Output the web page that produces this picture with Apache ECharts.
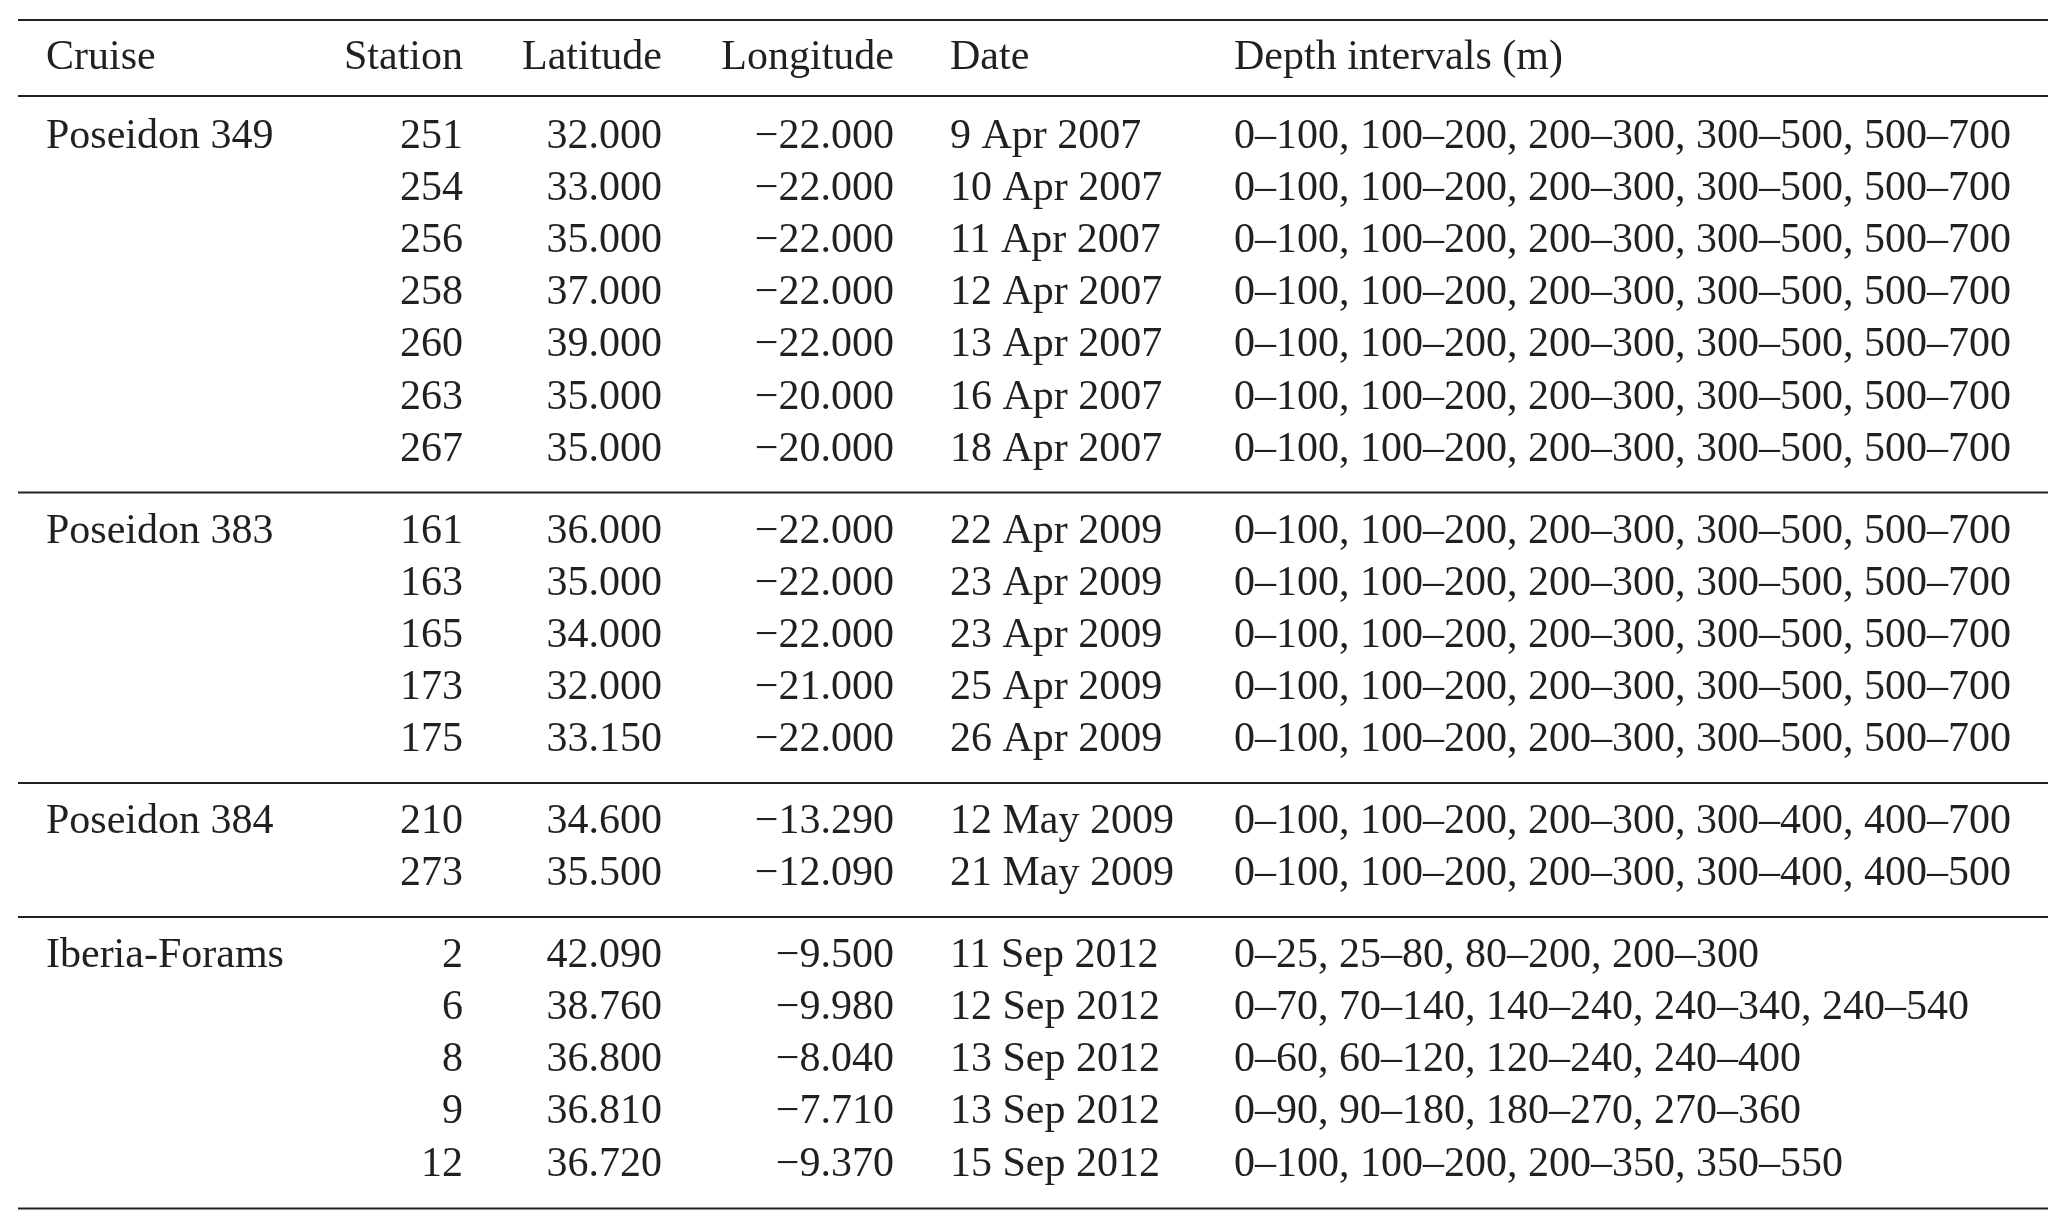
<!DOCTYPE html>
<html>
<head>
<meta charset="utf-8">
<script src="https://cdn.jsdelivr.net/npm/echarts@6/dist/echarts.min.js"></script>
<style>
  html, body { margin: 0; padding: 0; background: #fff; }
  #table_chart { width: 2067px; height: 1222px; }
</style>
</head>
<body>
<div id="table_chart"></div>
<script>
// Table data
var headers = ['Cruise', 'Station', 'Latitude', 'Longitude', 'Date', 'Depth intervals (m)'];
var cruises = ['Poseidon 349', 'Poseidon 383', 'Poseidon 384', 'Iberia-Forams'];
var stations = [
    ['251', '254', '256', '258', '260', '263', '267'],
    ['161', '163', '165', '173', '175'],
    ['210', '273'],
    ['2', '6', '8', '9', '12']
];
var latitudes = [
    ['32.000', '33.000', '35.000', '37.000', '39.000', '35.000', '35.000'],
    ['36.000', '35.000', '34.000', '32.000', '33.150'],
    ['34.600', '35.500'],
    ['42.090', '38.760', '36.800', '36.810', '36.720']
];
var longitudes = [
    ['−22.000', '−22.000', '−22.000', '−22.000', '−22.000', '−20.000', '−20.000'],
    ['−22.000', '−22.000', '−22.000', '−21.000', '−22.000'],
    ['−13.290', '−12.090'],
    ['−9.500', '−9.980', '−8.040', '−7.710', '−9.370']
];
var dates = [
    ['9 Apr 2007', '10 Apr 2007', '11 Apr 2007', '12 Apr 2007', '13 Apr 2007', '16 Apr 2007', '18 Apr 2007'],
    ['22 Apr 2009', '23 Apr 2009', '23 Apr 2009', '25 Apr 2009', '26 Apr 2009'],
    ['12 May 2009', '21 May 2009'],
    ['11 Sep 2012', '12 Sep 2012', '13 Sep 2012', '13 Sep 2012', '15 Sep 2012']
];
var p349 = '0–100, 100–200, 200–300, 300–500, 500–700';
var depths = [
    [p349, p349, p349, p349, p349, p349, p349],
    [p349, p349, p349, p349, p349],
    ['0–100, 100–200, 200–300, 300–400, 400–700', '0–100, 100–200, 200–300, 300–400, 400–500'],
    ['0–25, 25–80, 80–200, 200–300', '0–70, 70–140, 140–240, 240–340, 240–540',
     '0–60, 60–120, 120–240, 240–400', '0–90, 90–180, 180–270, 270–360', '0–100, 100–200, 200–350, 350–550']
];

// Layout
var colX = [46, 463, 662, 894, 950, 1234];
var colAlign = ['left', 'right', 'right', 'right', 'left', 'left'];
var ruleLeft = 18, ruleRight = 2048;
var rowH = 52.1;
var font = '42px "Liberation Serif", "DejaVu Serif", serif';
var ink = '#231f20';

var elements = [];
function rule(y) {
    elements.push({ type: 'line', shape: { x1: ruleLeft, y1: y, x2: ruleRight, y2: y },
        style: { stroke: ink, lineWidth: 2 } });
}
function cell(col, y, txt) {
    elements.push({ type: 'text', x: colX[col], y: y,
        style: { text: txt, font: font, fill: ink, align: colAlign[col], verticalAlign: 'middle' } });
}

rule(20);
headers.forEach(function (h, c) { cell(c, 58, h); });
rule(96);

var y = 137;
cruises.forEach(function (name, g) {
    cell(0, y, name);
    for (var i = 0; i < stations[g].length; i++) {
        var ry = y + i * rowH;
        cell(1, ry, stations[g][i]);
        cell(2, ry, latitudes[g][i]);
        cell(3, ry, longitudes[g][i]);
        cell(4, ry, dates[g][i]);
        cell(5, ry, depths[g][i]);
    }
    var ruleY = y + (stations[g].length - 1) * rowH + 43;
    rule(g === cruises.length - 1 ? ruleY + 1 : ruleY);
    y = ruleY + 39;
});

var chart = echarts.init(document.getElementById('table_chart'));
chart.setOption({ animation: false, graphic: { elements: elements } });
</script>
</body>
</html>
